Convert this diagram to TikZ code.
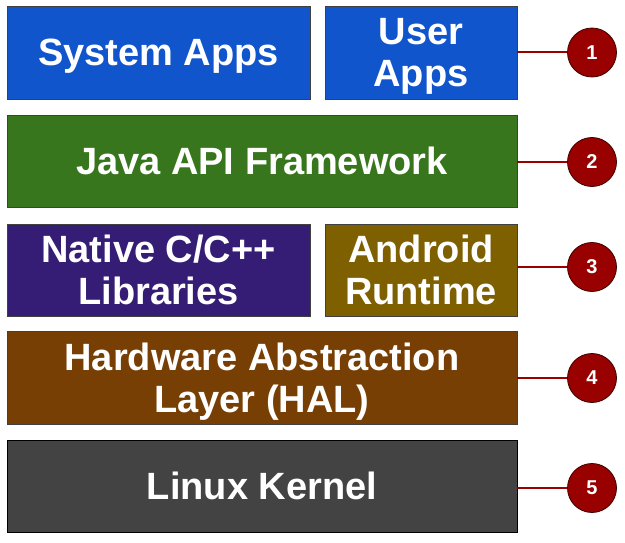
\documentclass[tikz,border=0pt]{standalone}
\usepackage{fontspec}
\setmainfont{Liberation Sans}
\definecolor{cblue}{HTML}{1155CC}
\definecolor{cgreen}{HTML}{38761D}
\definecolor{cpurple}{HTML}{351C75}
\definecolor{colive}{HTML}{7F6000}
\definecolor{cbrown}{HTML}{783F04}
\definecolor{cgray}{HTML}{434343}
\definecolor{cred}{HTML}{990000}
\begin{document}
\begin{tikzpicture}[x=1pt,y=-1pt,
  layer/.style={draw=black!75,line width=0.8pt,inner sep=0pt,text=white,text depth=0pt,
    font=\fontsize{38}{42}\selectfont\bfseries,align=center},
  num/.style={circle,fill=cred,draw=black!60!cred,line width=0.8pt,minimum size=49pt,inner sep=0pt,
    text=white,font=\fontsize{20}{22}\selectfont\bfseries},
  link/.style={draw=cred,line width=2pt}]
\useasboundingbox (0,0) rectangle (625,543);
\node[layer,fill=cblue,minimum width=303pt,minimum height=93pt] (sys) at (158.5,52.5) {System Apps};
\node[layer,fill=cblue,minimum width=192pt,minimum height=93pt] (usr) at (421,52.5) {User\\Apps};
\node[layer,fill=cgreen,minimum width=510pt,minimum height=92pt] (java) at (262,161) {Java API Framework};
\node[layer,fill=cpurple,minimum width=303pt,minimum height=92pt] (nat) at (158.5,270) {Native C/C++\\Libraries};
\node[layer,fill=colive,minimum width=192pt,minimum height=92pt] (art) at (421,270) {Android\\Runtime};
\node[layer,fill=cbrown,minimum width=510pt,minimum height=93pt] (hal) at (262,377.5) {Hardware Abstraction\\Layer (HAL)};
\node[layer,fill=cgray,draw=black,minimum width=510pt,minimum height=92pt] (lin) at (262,486) {Linux Kernel};
\node[num] (n1) at (592,52.5) {1};
\node[num] (n2) at (592,162) {2};
\node[num] (n3) at (592,267) {3};
\node[num] (n4) at (592,378) {4};
\node[num] (n5) at (592,488) {5};
\draw[link] (usr.east |- n1) -- (n1);
\draw[link] (java.east |- n2) -- (n2);
\draw[link] (art.east |- n3) -- (n3);
\draw[link] (hal.east |- n4) -- (n4);
\draw[link] (lin.east |- n5) -- (n5);
\end{tikzpicture}
\end{document}
